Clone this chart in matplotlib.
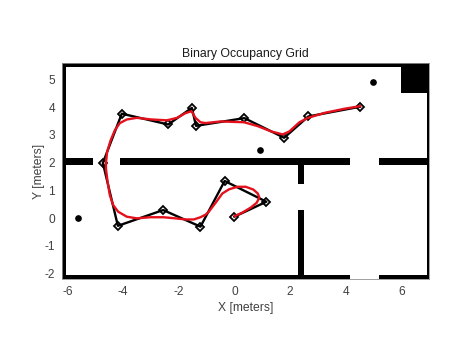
import numpy as np
import matplotlib
matplotlib.use('Agg')
import matplotlib.pyplot as plt

plt.rcParams['font.family'] = ['Liberation Sans', 'DejaVu Sans']
plt.rcParams['axes.unicode_minus'] = False

# occupied blocks of the map: xmin, xmax, ymin, ymax [meters]
walls = [(-6.2, -6.04, -2.2, 5.6), (6.92, 7.0, -2.2, 5.6),
         (-6.2, 7.0, 5.47, 5.6), (-6.2, 4.17, -2.2, -2.07), (5.2, 7.0, -2.2, -2.07),
         (6.0, 7.0, 4.5, 5.6),
         (-6.2, -5.1, 1.9, 2.16), (-4.1, 4.17, 1.9, 2.16), (5.2, 7.0, 1.9, 2.16),
         (2.28, 2.5, 1.22, 2.16), (2.28, 2.5, -2.2, 0.29)]
res = 0.02
limx = (-6.2, 7.0)
limy = (-2.2, 5.6)

ctrl_x = [0, 1.15, -0.35, -1.22, -2.56, -4.19, -4.73, -4.05, -2.38, -1.53, -1.38, 0.36, 1.79, 2.66, 4.52]
ctrl_y = [0.05, 0.59, 1.34, -0.31, 0.29, -0.28, 1.99, 3.77, 3.38, 3.98, 3.33, 3.61, 2.90, 3.67, 4.02]

path_x = [0.01, 0.29, 0.59, 0.8, 0.9, 0.84, 0.68, 0.41, 0.11, -0.19, -0.43, -0.67, -0.92, -1.04, -1.22,
          -1.46, -1.76, -2.12, -2.55, -3.03, -3.51, -3.87, -4.18, -4.36, -4.48, -4.56, -4.62, -4.62,
          -4.58, -4.45, -4.3, -4.12, -3.87, -3.51, -2.97, -2.42, -2.06, -1.76, -1.54, -1.4, -1.22,
          -1.04, -0.49, 0.35, 0.84, 1.32, 1.74, 1.98, 2.34, 2.65, 3.25, 3.97, 4.52]
path_y = [0.07, 0.2, 0.38, 0.55, 0.74, 0.89, 1.03, 1.13, 1.13, 1.04, 0.89, 0.56, 0.23, 0.12, 0.03,
          -0.05, -0.05, -0.01, 0.03, 0.03, -0.01, 0.05, 0.23, 0.47, 0.83, 1.31, 1.79, 1.97,
          2.38, 2.81, 3.17, 3.43, 3.56, 3.62, 3.56, 3.53, 3.62, 3.79, 3.86, 3.62, 3.46,
          3.43, 3.49, 3.46, 3.32, 3.13, 3.02, 3.13, 3.46, 3.62, 3.8, 3.95, 4.04]

dots_x = [-5.64, 0.92, 4.97]
dots_y = [0.0, 2.47, 4.9]

xt = [-6, -4, -2, 0, 2, 4, 6]
yt = [-2, -1, 0, 1, 2, 3, 4, 5]

nx = int(round((limx[1]-limx[0])/res)); ny = int(round((limy[1]-limy[0])/res))
xc = limx[0]+res*(np.arange(nx)+0.5)
yc = limy[0]+res*(np.arange(ny)+0.5)
X, Y = np.meshgrid(xc, yc)
grid = np.zeros((ny, nx))
for x0, x1, y0, y1 in walls:
    grid[(X >= x0) & (X <= x1) & (Y >= y0) & (Y <= y1)] = 1

fig = plt.figure(figsize=(4.74, 3.55), dpi=100)
ax = fig.add_axes([62/474, 1-279/355, 367/474, 216/355])
ax.imshow(grid, cmap='gray_r', vmin=0, vmax=1, origin='lower', extent=[*limx, *limy], aspect='auto',
          interpolation='nearest')
ax.plot(ctrl_x, ctrl_y, '-', color='k', lw=1.7)
ax.plot(ctrl_x, ctrl_y, 'D', mfc='none', mec='k', mew=1.3, ms=4.4)
ax.plot(path_x, path_y, '-', color='#e4101c', lw=1.7, solid_joinstyle='round')
ax.plot(dots_x, dots_y, 'o', color='k', ms=3.8)
ax.set_xlim(*limx); ax.set_ylim(*limy)
ax.set_xticks(xt); ax.set_yticks(yt)
ax.tick_params(length=0, labelsize=8.6, labelcolor='#404040', pad=5)
for s in ax.spines.values():
    s.set_color('#909090'); s.set_linewidth(0.6)
ax.set_xlabel('X [meters]', fontsize=8.7, color='#404040', labelpad=3)
ax.set_ylabel('Y [meters]', fontsize=8.7, color='#404040', labelpad=-0.5)
ax.set_title('Binary Occupancy Grid', fontsize=8.8, color='#1a1a1a', pad=4)
fig.savefig('out.png', dpi=100)
